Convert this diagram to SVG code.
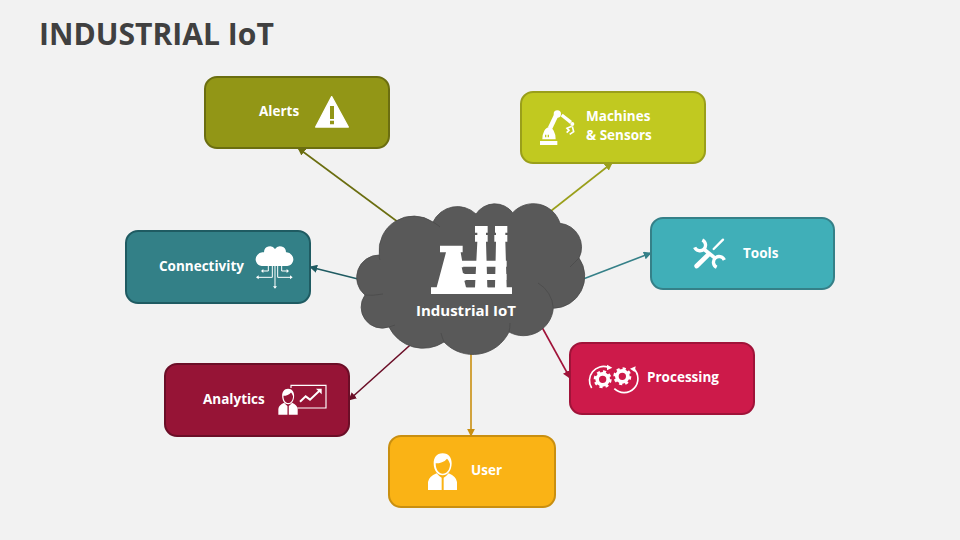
<svg xmlns="http://www.w3.org/2000/svg" width="960" height="540" viewBox="0 0 960 540">
<style>
text{font-family:"Open Sans","Liberation Sans",sans-serif;font-weight:700;fill:#fff;font-size:13.5px}
.t{font-size:30.100px;font-weight:700;fill:#404040}
.box{stroke-width:2}
.c{fill:none;stroke-width:1.6}
.w{fill:#fff}
.l{fill:none;stroke:#fff}
</style>
<defs>
<marker id="a1" markerWidth="5" markerHeight="5" refX="4.5" refY="2.5" orient="auto"><path d="M0 0L5 2.5L0 5Z" fill="#6b6e10"/></marker>
<marker id="a2" markerWidth="5" markerHeight="5" refX="4.5" refY="2.5" orient="auto"><path d="M0 0L5 2.5L0 5Z" fill="#9a9f1a"/></marker>
<marker id="a3" markerWidth="5" markerHeight="5" refX="4.5" refY="2.5" orient="auto"><path d="M0 0L5 2.5L0 5Z" fill="#358088"/></marker>
<marker id="a4" markerWidth="5" markerHeight="5" refX="4.5" refY="2.5" orient="auto"><path d="M0 0L5 2.5L0 5Z" fill="#1f5b62"/></marker>
<marker id="a5" markerWidth="5" markerHeight="5" refX="4.5" refY="2.5" orient="auto"><path d="M0 0L5 2.5L0 5Z" fill="#6b0e27"/></marker>
<marker id="a6" markerWidth="5" markerHeight="5" refX="4.5" refY="2.5" orient="auto"><path d="M0 0L5 2.5L0 5Z" fill="#a01339"/></marker>
<marker id="a7" markerWidth="5" markerHeight="5" refX="4.5" refY="2.5" orient="auto"><path d="M0 0L5 2.5L0 5Z" fill="#c98f10"/></marker>
<g id="person">
<path class="w" fill-rule="evenodd" d="M173 70C192 70 200 84 200 100C200 122 188 136 173 136C158 136 146 122 146 100C146 84 154 70 173 70ZM152 100C152 120 162 131 173 131C185 131 195 120 195 102C193 95 190 90 186 86C178 96 165 100 152 100Z"/>
<path class="w" d="M129 180L129 156Q131 140 155 130Q162 139 170 143L170 180ZM176 180L176 143Q184 139 191 130Q214 140 216 156L216 180Z"/>
</g>
<g id="gear">
<circle r="15" fill="none" stroke="#fff" stroke-width="10"/>
<circle r="21" fill="none" stroke="#fff" stroke-width="7" stroke-dasharray="8.500 8"/>
</g>
</defs>
<rect width="960" height="540" fill="#f2f2f2"/>
<text class="t" x="39" y="45">INDUSTRIAL IoT</text>
<g id="connectors">
<line class="c" x1="402" y1="225" x2="298" y2="148" stroke="#6b6e10" marker-end="url(#a1)"/>
<line class="c" x1="542" y1="218" x2="612" y2="163" stroke="#9a9f1a" marker-end="url(#a2)"/>
<line class="c" x1="578" y1="281" x2="651" y2="253" stroke="#358088" marker-end="url(#a3)"/>
<line class="c" x1="366" y1="281" x2="310" y2="267" stroke="#1f5b62" marker-end="url(#a4)"/>
<line class="c" x1="418" y1="338" x2="349" y2="400" stroke="#6b0e27" marker-end="url(#a5)"/>
<line class="c" x1="538" y1="320" x2="570" y2="378" stroke="#a01339" marker-end="url(#a6)"/>
<line class="c" x1="471" y1="345" x2="471" y2="436" stroke="#c98f10" marker-end="url(#a7)"/>
</g>
<g id="cloud">
<path fill="#595959" stroke="#4a4a4a" stroke-width=".8" d="M379.300 255A34.600 34.600 0 0 1 433 222A27 27 0 0 1 476 214A22.500 22.500 0 0 1 512.700 212.700A28 28 0 0 1 560 223.300A24 24 0 0 1 579 258A32 32 0 0 1 553.300 308.300A30 30 0 0 1 509 332A40 40 0 0 1 444 342A38 38 0 0 1 389 327A21 21 0 0 1 365 295A22.500 22.500 0 0 1 379.300 255Z"/>
<path fill="none" stroke="#4a4a4a" stroke-width=".8" d="M538 283A31 31 0 0 1 553.300 308.300M365 295Q372 296 383 294M379.300 255Q379 258 380 260M579 258Q574 263 570 267M433 222Q438 225 440 227M510 323Q510 328 509 332M444 342Q442 337 441 333M389 327Q392 326 395 325"/>
<g transform="translate(340 190) scale(.33333)">
<path class="w" d="M273 292H516V312H273ZM300 167H368V187H362L380 292H290L318 187H300ZM405 108H443V128H438V135H443V155H438L442 292H405L412 155H405V135H412V128H405ZM465 108H502V128H496V135H502V155H496L500 292H465L468 155H463V135H468V128H465ZM362 212H500V230H362ZM370 252H500V270H370Z"/>
<path fill="#595959" d="M365 232H405V250H369ZM444 232H465V250H444ZM373 272H405V292H378ZM444 272H465V292H444Z"/>
</g>
<text x="466" y="316" text-anchor="middle" style="font-size:15px">Industrial IoT</text>
</g>
<g id="alerts">
<rect class="box" x="205" y="77" width="184" height="71" rx="12" fill="#929616" stroke="#6b6e10"/>
<text x="259" y="115.500">Alerts</text>
<g transform="translate(200 70) scale(.33333)">
<path class="w" stroke="#fff" stroke-width="4" stroke-linejoin="round" d="M395 80L445 171H347Z"/>
<path fill="#929616" d="M390 108H402V147H390ZM390 152H402V163H390Z"/>
</g>
</g>
<g id="machines">
<rect class="box" x="521" y="92" width="184" height="71" rx="12" fill="#c1c920" stroke="#9a9f1a"/>
<text x="586" y="121">Machines</text>
<text x="586" y="140">&amp; Sensors</text>
<g transform="translate(515 85) scale(.33333)">
<path class="w" d="M75 168H127V180H75ZM82 163A20 36 0 0 1 122 163Z"/>
<path class="l" stroke-width="14" d="M105 130L125 88"/>
<circle class="w" cx="127" cy="87" r="11"/>
<path class="l" stroke-width="10" d="M140 90L168 112"/>
<circle class="w" cx="172" cy="117" r="6"/>
<path class="l" stroke-width="5" d="M170 124L156 130L162 136L155 143M172 124L176 140L164 148"/>
<path fill="#c1c920" d="M90 149H94V157H90ZM98 149H102V157H98Z"/>
</g>
</g>
<g id="tools">
<rect class="box" x="651" y="218" width="183" height="71" rx="12" fill="#40afb8" stroke="#358088"/>
<text x="743" y="258">Tools</text>
<g transform="translate(645 212) scale(.33333)">
<path class="l" stroke-width="11" d="M176 111L211 139"/>
<path class="l" stroke-width="10" d="M172 84A17 17 0 1 1 149 106M215 166A17 17 0 1 1 238 144"/>
<path class="l" stroke-width="14" stroke-linecap="round" d="M155 162L190 128"/>
<path class="l" stroke-width="7" stroke-linecap="round" d="M206 111L234 83"/>
</g>
</g>
<g id="connectivity">
<rect class="box" x="126" y="231" width="184" height="72" rx="12" fill="#338087" stroke="#1f5b62"/>
<text x="159" y="271">Connectivity</text>
<g transform="translate(120 225) scale(.33333)">
<path class="w" d="M425 123A20 20 0 0 1 412 90A19 19 0 0 1 432 82A18 18 0 0 1 465 72A18 18 0 0 1 498 82A19 19 0 0 1 515 90A20 20 0 0 1 502 123Z"/>
<path class="l" stroke-width="3" d="M465 123V186M457 123V157H414M473 123V157H512M445 123V138H428M485 123V138H502"/>
<path class="w" d="M459 184H471L465 191ZM416 151V163L408 157ZM510 151V163L518 157ZM430 132V144L423 138ZM500 132V144L507 138Z"/>
</g>
</g>
<g id="analytics">
<rect class="box" x="165" y="364" width="184" height="72" rx="12" fill="#961436" stroke="#6b0e27"/>
<text x="203" y="404">Analytics</text>
<g transform="translate(160 358) scale(.33333)">
<path class="l" stroke-width="3.500" d="M393 90V82H498V150H412"/>
<path class="l" stroke-width="6" d="M420 131L437 115L450 125L480 97"/>
<path class="w" d="M468 92H485V109Z"/>
<use href="#person" transform="translate(269 42.300) scale(.667 .71)"/>
</g>
</g>
<g id="processing">
<rect class="box" x="570" y="343" width="184" height="71" rx="12" fill="#cd1a4a" stroke="#a01339"/>
<text x="647" y="382">Processing</text>
<g transform="translate(565 338) scale(.33333)">
<use href="#gear" transform="translate(113 124) scale(1.1)"/>
<use href="#gear" transform="translate(172 115) scale(1.1)"/>
<path class="l" stroke-width="5" d="M130 88A42 42 0 0 0 80 150"/>
<path class="l" stroke-width="5" d="M206 92A38 38 0 0 1 148 152"/>
<path class="w" d="M126 80L142 89L126 97ZM195 92L212 85L209 102Z"/>
</g>
</g>
<g id="user">
<rect class="box" x="389" y="436" width="166" height="71" rx="12" fill="#fab315" stroke="#c98f10"/>
<text x="471" y="475">User</text>
<g transform="translate(385 430) scale(.33333)">
<use href="#person"/>
</g>
</g>
</svg>
